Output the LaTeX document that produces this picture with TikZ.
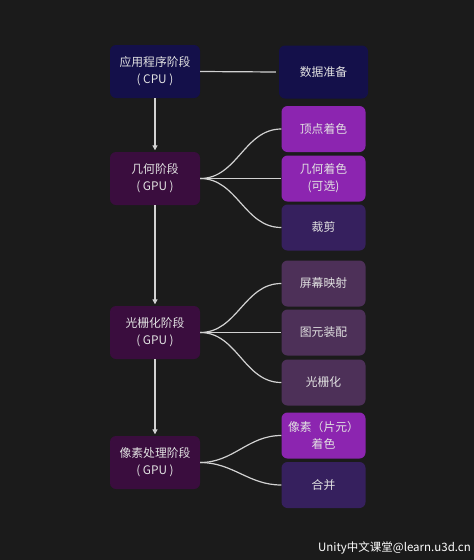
\documentclass[tikz,border=0pt]{standalone}
\usepackage{fontspec}
\setmainfont{Noto Sans CJK SC}
\usetikzlibrary{arrows.meta}
\definecolor{bg}{HTML}{1B1B1B}
\definecolor{navy}{HTML}{14104A}
\definecolor{plum}{HTML}{3A0D3E}
\definecolor{magenta}{HTML}{8C25B0}
\definecolor{indigo}{HTML}{36205E}
\definecolor{muted}{HTML}{4D3058}
\definecolor{txt}{HTML}{E2E2E2}
\definecolor{ln}{HTML}{D2D2D2}
\begin{document}
\begin{tikzpicture}[x=1pt,y=-1pt,
    stage/.style={rounded corners=6pt,minimum width=90pt,minimum height=53pt,inner sep=0pt,
      text=txt,align=center,font=\fontsize{11.8}{17}\selectfont},
    sub/.style={stage,minimum width=84pt,minimum height=46pt},
    link/.style={draw=ln,line width=1.2pt}]
    \fill[bg] (0,0) rectangle (474,560);
    % stages
    \node[stage,fill=navy] (app) at (155,71.5) {应用程序阶段\\( CPU )};
    \node[stage,fill=plum] (geo) at (155,178.5) {几何阶段\\( GPU )};
    \node[stage,fill=plum] (ras) at (155,332.5) {光栅化阶段\\( GPU )};
    \node[stage,fill=plum] (pix) at (155,462.5) {像素处理阶段\\( GPU )};
    \foreach \a/\b in {app/geo,geo/ras,ras/pix}
      \draw[link,-{Triangle[length=5pt,width=5pt]},shorten >=1.5pt] (\a.south) -- (\b.north);
    % sub steps
    \node[sub,fill=navy,minimum width=89pt,minimum height=53pt] (data) at (323.5,72) {数据准备};
    \draw[link] (app.east) -- ([xshift=-3pt]data.west);
    \foreach \n/\y/\col/\lab/\from in {
        vert/129/magenta/顶点着色/geo,
        geom/178.5/magenta/几何着色\\(可选)/geo,
        clip/227.5/indigo/裁剪/geo,
        scr/283.5/muted/屏幕映射/ras,
        prim/332.5/muted/图元装配/ras,
        rast/382.5/muted/光栅化/ras,
        frag/435.5/magenta/像素（片元）\\着色/pix,
        merge/485/indigo/合并/pix} {
      \node[sub,fill=\col] (\n) at (323.5,\y) {\lab};
      \draw[link] (\from.east) to[out=0,in=180] (\n.west);
    }
    \node[anchor=east,text=white,font=\fontsize{11.5}{13}\selectfont,inner sep=0pt] (mark) at (471,548) {Unity中文课堂@learn.u3d.cn};
\end{tikzpicture}
\end{document}
